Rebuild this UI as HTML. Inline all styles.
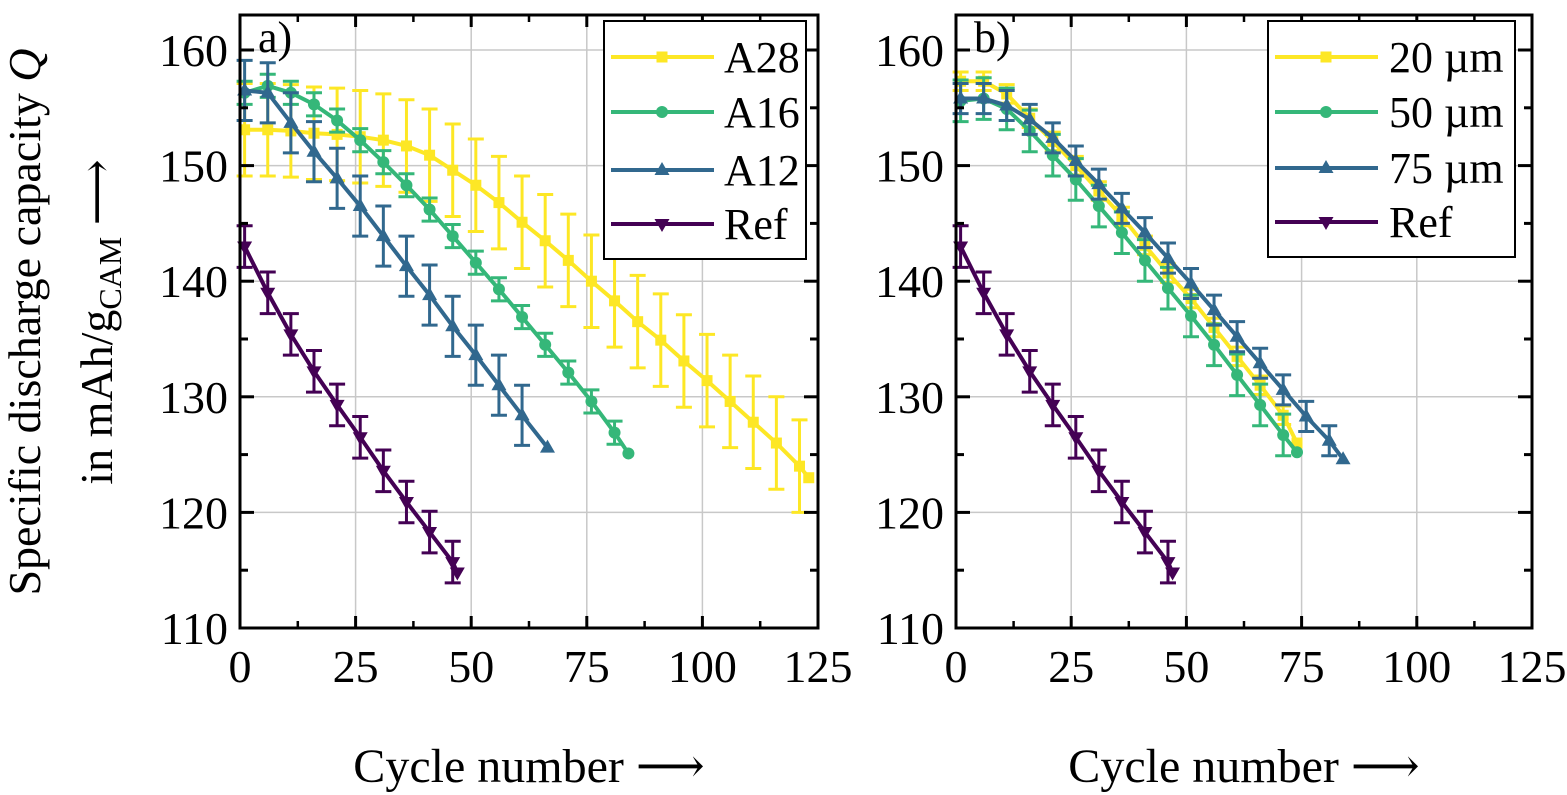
<!DOCTYPE html>
<html><head><meta charset="utf-8"><style>
body{margin:0;background:#fff}
svg{display:block;font-family:"Liberation Serif","DejaVu Serif",serif}
</style></head><body>
<svg id="s" width="1567" height="795" xmlns="http://www.w3.org/2000/svg"></svg>
<script>
const S=document.getElementById('s');let h='';
const Y0=628,YS=11.56; const yv=v=>Y0-(v-110)*YS; const YT=15;
const C={y:'#fde725',g:'#35b779',b:'#31688e',p:'#440154'};
function mk(t,x,y,c){
 if(t=='s')return `<rect x="${x-5.5}" y="${y-5.5}" width="11" height="11" fill="${c}"/>`;
 if(t=='c')return `<circle cx="${x}" cy="${y}" r="6" fill="${c}"/>`;
 if(t=='u')return `<polygon points="${x},${y-8} ${x-7.5},${y+5} ${x+7.5},${y+5}" fill="${c}"/>`;
 return `<polygon points="${x},${y+8} ${x-7.5},${y-5} ${x+7.5},${y-5}" fill="${c}"/>`;
}
function panel(X0,XS,series,leg,lab){
 const xv=v=>X0+v*XS, X1=X0+125*XS;
 for(let v=0;v<=125;v+=25)h+=`<line x1="${xv(v)}" y1="${YT}" x2="${xv(v)}" y2="${Y0}" stroke="#c8c8c8" stroke-width="1.5"/>`;
 for(let v=110;v<=160;v+=10)h+=`<line x1="${X0}" y1="${yv(v)}" x2="${X1}" y2="${yv(v)}" stroke="#c8c8c8" stroke-width="1.5"/>`;
 for(const s of series){
  const pts=s.d.map(p=>[xv(p[0]),yv(p[1]),p[2]]);
  for(const p of pts){if(!p[2])continue;const t=p[1]-p[2]*YS,b=p[1]+p[2]*YS;
   h+=`<g stroke="${s.c}" stroke-width="3"><line x1="${p[0]}" y1="${t}" x2="${p[0]}" y2="${b}"/><line x1="${p[0]-8}" y1="${t}" x2="${p[0]+8}" y2="${t}"/><line x1="${p[0]-8}" y1="${b}" x2="${p[0]+8}" y2="${b}"/></g>`;}
  h+=`<polyline points="${pts.map(p=>p[0]+','+p[1]).join(' ')}" fill="none" stroke="${s.c}" stroke-width="4"/>`;
  for(const p of pts)h+=mk(s.m,p[0],p[1],s.c);
 }
 h+=`<rect x="${X0}" y="${YT}" width="${X1-X0}" height="${Y0-YT}" fill="none" stroke="#000" stroke-width="3"/>`;
 for(let v=0;v<=125;v+=25){h+=`<line x1="${xv(v)}" y1="${Y0}" x2="${xv(v)}" y2="${Y0-12}" stroke="#000" stroke-width="3"/><line x1="${xv(v)}" y1="${YT}" x2="${xv(v)}" y2="${YT+12}" stroke="#000" stroke-width="3"/>`;
  h+=`<text x="${xv(v)}" y="682" font-size="46" text-anchor="middle">${v}</text>`;}
 for(let v=12.5;v<125;v+=25){h+=`<line x1="${xv(v)}" y1="${Y0}" x2="${xv(v)}" y2="${Y0-7}" stroke="#000" stroke-width="2.5"/><line x1="${xv(v)}" y1="${YT}" x2="${xv(v)}" y2="${YT+7}" stroke="#000" stroke-width="2.5"/>`;}
 for(let v=110;v<=160;v+=5){const L=v%10==0?14:8;h+=`<line x1="${X0}" y1="${yv(v)}" x2="${X0+L}" y2="${yv(v)}" stroke="#000" stroke-width="3"/><line x1="${X1}" y1="${yv(v)}" x2="${X1-L}" y2="${yv(v)}" stroke="#000" stroke-width="3"/>`;
  if(v%10==0)h+=`<text x="${X0-12}" y="${yv(v)+16}" font-size="46" text-anchor="end">${v}</text>`;}
 h+=`<text x="${X0+18}" y="52" font-size="44">${lab}</text>`;
 h+=`<text x="${(X0+X1)/2}" y="782" font-size="48" text-anchor="middle">Cycle number ⟶</text>`;
 const [bx,bw,ys]=leg.box;
 h+=`<rect x="${bx}" y="21" width="${bw}" height="${ys[ys.length-1]+35-21}" fill="#fff" stroke="#000" stroke-width="2"/>`;
 series.forEach((s,i)=>{const y=ys[i];h+=`<line x1="${bx+7}" y1="${y}" x2="${bx+110}" y2="${y}" stroke="${s.c}" stroke-width="4"/>`+mk(s.m,bx+58,y,s.c)+`<text x="${leg.tx}" y="${y+15}" font-size="44">${s.n}</text>`;});
}
function gen(a,vals,e){return vals.map((v,i)=>[a[i],v,Array.isArray(e)?e[i]:e]);}
const cyc=n=>Array.from({length:n},(_,i)=>1+5*i);
const ref={n:'Ref',c:C.p,m:'d',d:gen([...cyc(10),47],[143,139,135.4,132.2,129.3,126.5,123.6,120.9,118.3,115.7,114.8],[1.8,1.8,1.8,1.8,1.8,1.8,1.8,1.8,1.8,1.8,0])};
let a28=gen([...cyc(25),123],[153.1,153.1,153,152.8,152.7,152.5,152.2,151.7,150.9,149.6,148.3,146.8,145.1,143.5,141.8,140,138.3,136.5,134.9,133.1,131.4,129.6,127.8,126,124,123],4);a28[25][2]=0;
let a16=gen([...cyc(17),84],[156.3,156.9,156.3,155.3,153.9,152.2,150.3,148.3,146.2,143.9,141.6,139.3,136.9,134.5,132.1,129.6,126.9,125.1],1);a16[17][2]=0;
let a12=gen([...cyc(13),66.5],[156.5,156.3,153.7,151.2,148.9,146.5,143.9,141.3,138.8,136.1,133.6,131,128.4,125.6],2.6);a12[13][2]=0;
panel(240,4.624,[{n:'A28',c:C.y,m:'s',d:a28},{n:'A16',c:C.g,m:'c',d:a16},{n:'A12',c:C.b,m:'u',d:a12},ref],{box:[604,202,[57,112,170,224]],tx:724},'a)');
let b20=gen([...cyc(15),74],[157.3,157.3,156.2,154.1,152.1,150,147.8,145.6,143.1,140.7,138.5,136,133.5,131,128.4,126],0.8);b20[15][2]=0;
let b50=gen([...cyc(15),74],[155.6,155.8,154.9,153,150.9,148.8,146.5,144.2,141.8,139.4,137,134.5,131.9,129.3,126.7,125.2],1.8);b50[15][2]=0;
let b75=gen([...cyc(17),84],[155.8,155.8,155.2,154,152.4,150.4,148.4,146.3,144.2,142,139.8,137.5,135.2,132.9,130.6,128.3,126.2,124.6],1.3);b75[17][2]=0;
panel(956,4.608,[{n:'20 µm',c:C.y,m:'s',d:b20},{n:'50 µm',c:C.g,m:'c',d:b50},{n:'75 µm',c:C.b,m:'u',d:b75},ref],{box:[1268,247,[57,112,168,222]],tx:1389},'b)');
h+=`<text transform="translate(40,322) rotate(-90)" font-size="46" text-anchor="middle">Specific discharge capacity <tspan font-style="italic">Q</tspan></text>`;
h+=`<text transform="translate(112,322) rotate(-90)" font-size="46" text-anchor="middle">in mAh/g<tspan font-size="32" dy="9">CAM</tspan><tspan dy="-9"> ⟶</tspan></text>`;
S.innerHTML=h;
</script>
</body></html>
